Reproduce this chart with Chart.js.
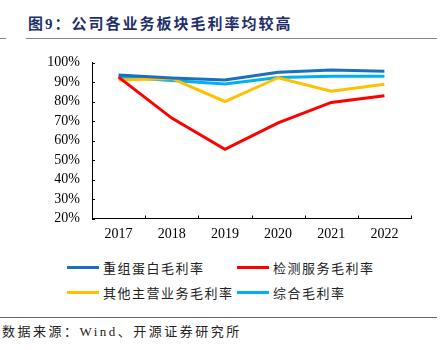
<!DOCTYPE html>
<html lang="zh">
<head>
  <meta charset="UTF-8">
  <title>公司各业务板块毛利率均较高</title>
  <script src="https://cdn.jsdelivr.net/npm/chart.js"></script>
  <style>
    body {
      margin: 0;
      width: 440px;
      height: 350px;
      background: #fff;
      position: relative;
      overflow: hidden;
      font-family: "Liberation Serif", "Noto Sans CJK SC", serif;
    }

    .title {
      position: absolute;
      left: 28px;
      top: 12px;
      font-size: 15px;
      font-weight: bold;
      color: #1f2f6b;
      letter-spacing: 2px;
      white-space: nowrap;
    }

    .rule-top {
      position: absolute;
      left: 26px;
      right: 3px;
      top: 38px;
      border-top: 1.5px solid #888;
    }

    .rule-top-left {
      position: absolute;
      left: 0;
      width: 6px;
      top: 38px;
      border-top: 1.5px solid #888;
    }

    #wrap {
      position: absolute;
      left: 0;
      top: 40px;
      width: 440px;
      height: 210px;
    }

    .legend-item {
      position: absolute;
      height: 16px;
      display: flex;
      align-items: center;
      font-size: 13px;
      letter-spacing: 1.5px;
      color: #222;
      white-space: nowrap;
    }

    .legend-item span.swatch {
      display: inline-block;
      width: 32px;
      height: 3px;
      margin-right: 4px;
    }

    .rule-bottom {
      position: absolute;
      left: 0;
      right: 3px;
      top: 317px;
      border-top: 1.5px solid #666;
    }

    .source {
      position: absolute;
      left: 2px;
      top: 321px;
      font-size: 13px;
      letter-spacing: 2.5px;
      color: #222;
      white-space: nowrap;
    }
  </style>
</head>
<body>
  <div class="title">图9：公司各业务板块毛利率均较高</div>
  <div class="rule-top-left"></div>
  <div class="rule-top"></div>

  <div id="wrap"><canvas id="chart"></canvas></div>

  <div id="legend"></div>

  <div class="rule-bottom"></div>
  <div class="source">数据来源：Wind、开源证券研究所</div>

  <script>
    const years = ['2017', '2018', '2019', '2020', '2021', '2022'];

    const proteinMargin = [93.6, 92.0, 91.0, 95.0, 96.2, 95.5];
    const testingMargin = [92.5, 71.5, 55.5, 69.0, 79.5, 83.0];
    const otherMargin = [91.0, 91.8, 80.0, 92.2, 85.3, 88.8];
    const totalMargin = [92.6, 90.8, 89.0, 92.3, 93.0, 93.0];

    const seriesNames = ['重组蛋白毛利率', '检测服务毛利率', '其他主营业务毛利率', '综合毛利率'];
    const seriesColors = ['#1c6fbf', '#ff0000', '#ffc000', '#00b0f0'];

    const yTicks = [20, 30, 40, 50, 60, 70, 80, 90, 100];

    // small tick marks pointing into the plot area
    const innerTicks = {
      id: 'innerTicks',
      afterDraw(chart) {
        const ctx = chart.ctx;
        const x = chart.scales.x;
        const y = chart.scales.y;
        ctx.save();
        ctx.strokeStyle = '#000';
        ctx.lineWidth = 1;
        ctx.beginPath();
        yTicks.forEach(v => {
          const py = Math.round(y.getPixelForValue(v)) + 0.5;
          ctx.moveTo(x.left, py);
          ctx.lineTo(x.left + 3, py);
        });
        const step = x.getPixelForValue(1) - x.getPixelForValue(0);
        for (let i = 1; i <= years.length; i++) {
          const px = Math.round(x.getPixelForValue(i - 1) + step / 2) + 0.5;
          ctx.moveTo(px, y.bottom);
          ctx.lineTo(px, y.bottom - 3);
        }
        ctx.stroke();
        ctx.restore();
      }
    };

    const datasets = [proteinMargin, testingMargin, otherMargin, totalMargin].map((d, i) => ({
      label: seriesNames[i],
      data: d,
      borderColor: seriesColors[i],
      backgroundColor: seriesColors[i],
      borderWidth: 3,
      pointRadius: 0,
      tension: 0,
      fill: false
    }));

    new Chart(document.getElementById('chart'), {
      type: 'line',
      data: { labels: years, datasets: datasets },
      plugins: [innerTicks],
      options: {
        responsive: true,
        maintainAspectRatio: false,
        animation: false,
        layout: { padding: { left: 0, right: 29, top: 22.5, bottom: 0 } },
        plugins: {
          legend: { display: false },
          tooltip: { enabled: false }
        },
        scales: {
          x: {
            offset: true,
            grid: { display: false, drawTicks: false },
            border: { display: true, color: '#000', width: 1 },
            ticks: {
              padding: 7,
              color: '#000',
              autoSkip: false,
              maxRotation: 0,
              font: { family: 'Liberation Serif', size: 14 }
            },
            afterFit: s => { s.height = 31.5; }
          },
          y: {
            min: 20,
            max: 100,
            grid: { display: false, drawTicks: false },
            border: { display: true, color: '#000', width: 1 },
            afterBuildTicks: s => { s.ticks = yTicks.map(v => ({ value: v })); },
            ticks: {
              padding: 12,
              color: '#000',
              autoSkip: false,
              font: { family: 'Liberation Serif', size: 14 },
              callback: v => v + '%'
            },
            afterFit: s => { s.width = 92; }
          }
        }
      }
    });

    // legend: two rows, two columns
    const legendPos = [[67, 259], [237, 259], [67, 284], [237, 284]];
    const legend = document.getElementById('legend');
    seriesNames.forEach((name, i) => {
      const item = document.createElement('div');
      item.className = 'legend-item';
      item.style.left = legendPos[i][0] + 'px';
      item.style.top = legendPos[i][1] + 'px';
      item.innerHTML = '<span class="swatch" style="background:' + seriesColors[i] + '"></span>' + name;
      legend.appendChild(item);
    });
  </script>
</body>
</html>
